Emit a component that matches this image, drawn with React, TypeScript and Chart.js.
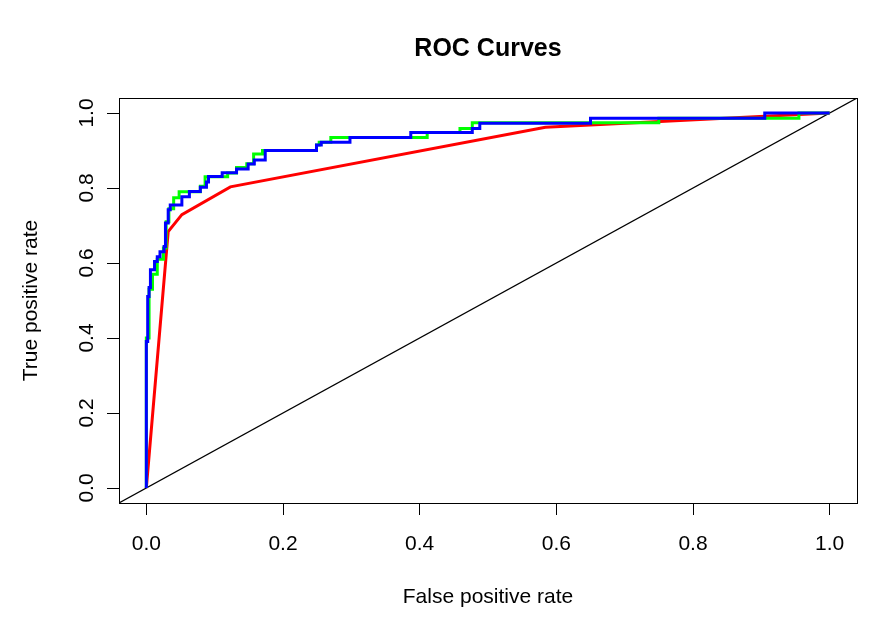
import React, { useEffect, useRef } from "react";
import { Chart, registerables } from "chart.js";

Chart.register(...registerables);

const TITLE = "ROC Curves";
const X_TITLE = "False positive rate";
const Y_TITLE = "True positive rate";
const TICKS = [0, 0.2, 0.4, 0.6, 0.8, 1.0];
const TICK_LABELS = ["0.0", "0.2", "0.4", "0.6", "0.8", "1.0"];
const AXIS_MIN = -0.04;
const AXIS_MAX = 1.04;

const RED_FPR = [0, 0.032, 0.052, 0.123, 0.584, 1.0];
const RED_TPR = [0, 0.684, 0.729, 0.803, 0.962, 1.0];

const GREEN_FPR = [0, 0, 0.004, 0.009, 0.016, 0.025, 0.029, 0.033, 0.04, 0.048, 0.079, 0.086, 0.119, 0.132, 0.147, 0.157, 0.17, 0.249, 0.253, 0.27, 0.411, 0.459, 0.477, 0.75, 0.955, 1.0];
const GREEN_TPR = [0, 0.4, 0.53, 0.57, 0.61, 0.64, 0.71, 0.745, 0.774, 0.79, 0.805, 0.83, 0.84, 0.855, 0.865, 0.891, 0.9, 0.915, 0.922, 0.935, 0.948, 0.959, 0.974, 0.986, 1.0, 1.0];

const BLUE_FPR = [0, 0, 0.002, 0.004, 0.006, 0.012, 0.016, 0.02, 0.026, 0.028, 0.032, 0.035, 0.052, 0.063, 0.079, 0.088, 0.091, 0.111, 0.132, 0.149, 0.158, 0.174, 0.249, 0.256, 0.298, 0.387, 0.477, 0.488, 0.65, 0.905, 1.0];
const BLUE_TPR = [0, 0.391, 0.511, 0.535, 0.582, 0.604, 0.617, 0.63, 0.644, 0.707, 0.742, 0.755, 0.777, 0.791, 0.802, 0.816, 0.831, 0.841, 0.851, 0.864, 0.875, 0.9, 0.915, 0.922, 0.935, 0.948, 0.959, 0.973, 0.986, 1.0, 1.0];

const DIAG = [AXIS_MIN, AXIS_MAX];

const FONT = '"Liberation Sans", Arial, sans-serif';

const toPts = (xs: number[], ys: number[]) => xs.map((x, i) => ({ x, y: ys[i] }));

const textPlugin = {
  id: "rText",
  afterDraw(chart: any) {
    const { ctx, chartArea, scales } = chart;
    const { left, right, top, bottom } = chartArea;
    ctx.save();
    ctx.strokeStyle = "#000";
    ctx.lineWidth = 1;
    ctx.strokeRect(left + 0.5, top + 0.5, right - left, bottom - top);

    ctx.fillStyle = "#000";
    ctx.font = `21px ${FONT}`;
    ctx.textAlign = "center";
    ctx.textBaseline = "alphabetic";
    TICKS.forEach((v, i) => {
      const py = scales.y.getPixelForValue(v);
      ctx.save();
      ctx.translate(left - 26, py);
      ctx.rotate(-Math.PI / 2);
      ctx.fillText(TICK_LABELS[i], 0, 0);
      ctx.restore();
    });

    const cx = (left + right) / 2;
    const cy = (top + bottom) / 2;
    ctx.font = `bold 25px ${FONT}`;
    ctx.fillText(TITLE, cx, 56);
    ctx.font = `21px ${FONT}`;
    ctx.fillText(X_TITLE, cx, 603);
    ctx.save();
    ctx.translate(37, cy);
    ctx.rotate(-Math.PI / 2);
    ctx.fillText(Y_TITLE, 0, 0);
    ctx.restore();
    ctx.restore();
  },
};

export default function App() {
  const ref = useRef<HTMLCanvasElement | null>(null);
  useEffect(() => {
    if (!ref.current) return;
    const chart = new Chart(ref.current, {
      type: "line",
      data: {
        datasets: [
          {
            label: "blue",
            data: toPts(BLUE_FPR, BLUE_TPR),
            borderColor: "#0000FF",
            borderWidth: 3,
            stepped: "before",
            pointRadius: 0,
            fill: false,
          },
          {
            label: "green",
            data: toPts(GREEN_FPR, GREEN_TPR),
            borderColor: "#00FF00",
            borderWidth: 3,
            stepped: "before",
            pointRadius: 0,
            fill: false,
          },
          {
            label: "red",
            data: toPts(RED_FPR, RED_TPR),
            borderColor: "#FF0000",
            borderWidth: 3,
            pointRadius: 0,
            fill: false,
          },
          {
            label: "diag",
            data: toPts(DIAG, DIAG),
            borderColor: "#000000",
            borderWidth: 1.2,
            pointRadius: 0,
            fill: false,
          },
        ],
      },
      options: {
        animation: false,
        responsive: false,
        events: [],
        layout: { padding: { top: 98, right: 30, left: 0, bottom: 0 } },
        plugins: {
          legend: { display: false },
          tooltip: { enabled: false },
          title: { display: false },
        },
        scales: {
          x: {
            type: "linear",
            min: AXIS_MIN,
            max: AXIS_MAX,
            afterBuildTicks: (s: any) => {
              s.ticks = TICKS.map((v) => ({ value: v }));
            },
            afterFit: (s: any) => {
              s.height = 122;
            },
            ticks: {
              color: "#000",
              font: { family: FONT, size: 21 },
              padding: 17,
              maxRotation: 0,
              autoSkip: false,
              callback: (v: any) => {
                const i = TICKS.findIndex((t) => Math.abs(t - Number(v)) < 1e-9);
                return i >= 0 ? TICK_LABELS[i] : "";
              },
            },
            grid: {
              drawOnChartArea: false,
              drawTicks: true,
              tickLength: 12,
              color: "#000",
              lineWidth: 1,
            },
            border: { display: false },
          },
          y: {
            type: "linear",
            min: AXIS_MIN,
            max: AXIS_MAX,
            afterBuildTicks: (s: any) => {
              s.ticks = TICKS.map((v) => ({ value: v }));
            },
            afterFit: (s: any) => {
              s.width = 119;
            },
            ticks: { display: false },
            grid: {
              drawOnChartArea: false,
              drawTicks: true,
              tickLength: 12,
              color: "#000",
              lineWidth: 1,
            },
            border: { display: false },
          },
        },
      } as any,
      plugins: [textPlugin],
    });
    return () => chart.destroy();
  }, []);
  return (
    <div style={{ position: "absolute", left: 0, top: 0, width: 887, height: 625, background: "#fff" }}>
      <canvas ref={ref} width={887} height={625} style={{ width: 887, height: 625 }} />
    </div>
  );
}
